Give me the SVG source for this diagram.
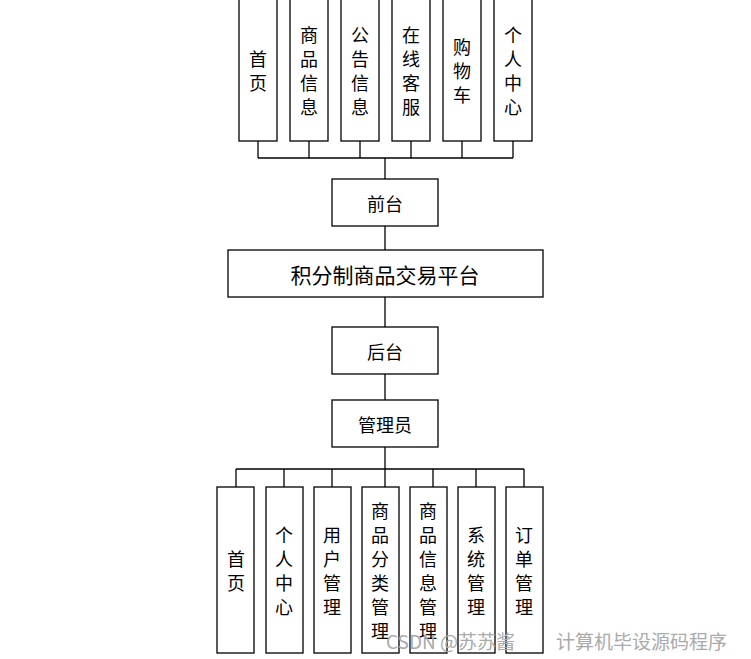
<svg xmlns="http://www.w3.org/2000/svg" width="751" height="659" viewBox="0 0 751 659">
<style>
rect{fill:#fff;stroke:#000;stroke-width:1.3}
.c line,.c polyline{stroke:#000;stroke-width:1.3;fill:none}
text{font-family:"Noto Sans CJK SC",sans-serif;font-size:18px;fill:#000;text-anchor:middle;dominant-baseline:central}
.wm{fill:#aaa;font-size:19px;text-anchor:start}
</style>
<rect x="0" y="0" width="751" height="659" style="stroke:none"/>
<g class="c">
<line x1="258" y1="141" x2="258" y2="158"/><line x1="309" y1="141" x2="309" y2="158"/><line x1="360" y1="141" x2="360" y2="158"/><line x1="411" y1="141" x2="411" y2="158"/><line x1="462" y1="141" x2="462" y2="158"/><line x1="513" y1="141" x2="513" y2="158"/>
<line x1="258" y1="158" x2="513" y2="158"/>
<line x1="385" y1="158" x2="385" y2="179"/>
<line x1="385" y1="226" x2="385" y2="250"/>
<line x1="385" y1="297" x2="385" y2="327"/>
<line x1="385" y1="374" x2="385" y2="400"/>
<line x1="385" y1="447" x2="385" y2="487"/>
<line x1="236" y1="469" x2="524" y2="469"/>
<line x1="236" y1="469" x2="236" y2="487"/><line x1="284" y1="469" x2="284" y2="487"/><line x1="332" y1="469" x2="332" y2="487"/><line x1="433" y1="469" x2="433" y2="487"/><line x1="476" y1="469" x2="476" y2="487"/><line x1="524" y1="469" x2="524" y2="487"/>
</g>
<g id="t1"><rect x="239" y="-2" width="38" height="143"/><text x="258" y="58">首</text><text x="258" y="82">页</text></g>
<g id="t2"><rect x="290" y="-2" width="38" height="143"/><text x="309" y="34">商</text><text x="309" y="58">品</text><text x="309" y="82">信</text><text x="309" y="106">息</text></g>
<g id="t3"><rect x="341" y="-2" width="38" height="143"/><text x="360" y="34">公</text><text x="360" y="58">告</text><text x="360" y="82">信</text><text x="360" y="106">息</text></g>
<g id="t4"><rect x="392" y="-2" width="38" height="143"/><text x="411" y="34">在</text><text x="411" y="58">线</text><text x="411" y="82">客</text><text x="411" y="106">服</text></g>
<g id="t5"><rect x="443" y="-2" width="38" height="143"/><text x="462" y="46">购</text><text x="462" y="70">物</text><text x="462" y="94">车</text></g>
<g id="t6"><rect x="494" y="-2" width="38" height="143"/><text x="513" y="34">个</text><text x="513" y="58">人</text><text x="513" y="82">中</text><text x="513" y="106">心</text></g>
<g id="qt"><rect x="332" y="179" width="106" height="47"/><text x="385" y="203">前台</text></g>
<g id="main"><rect x="228" y="250" width="315" height="47"/><text x="385" y="274" style="font-size:21px">积分制商品交易平台</text></g>
<g id="ht"><rect x="332" y="327" width="106" height="47"/><text x="385" y="351">后台</text></g>
<g id="gly"><rect x="332" y="400" width="106" height="47"/><text x="385" y="424">管理员</text></g>
<g id="b1"><rect x="217" y="487" width="37" height="166"/><text x="236" y="558">首</text><text x="236" y="582">页</text></g>
<g id="b2"><rect x="266" y="487" width="37" height="166"/><text x="284" y="534">个</text><text x="284" y="558">人</text><text x="284" y="582">中</text><text x="284" y="606">心</text></g>
<g id="b3"><rect x="314" y="487" width="37" height="166"/><text x="332" y="534">用</text><text x="332" y="558">户</text><text x="332" y="582">管</text><text x="332" y="606">理</text></g>
<g id="b4"><rect x="362" y="487" width="37" height="166"/><text x="380" y="510">商</text><text x="380" y="534">品</text><text x="380" y="558">分</text><text x="380" y="582">类</text><text x="380" y="606">管</text><text x="380" y="630">理</text></g>
<g id="b5"><rect x="410" y="487" width="37" height="166"/><text x="428" y="510">商</text><text x="428" y="534">品</text><text x="428" y="558">信</text><text x="428" y="582">息</text><text x="428" y="606">管</text><text x="428" y="630">理</text></g>
<g id="b6"><rect x="458" y="487" width="37" height="166"/><text x="476" y="534">系</text><text x="476" y="558">统</text><text x="476" y="582">管</text><text x="476" y="606">理</text></g>
<g id="b7"><rect x="506" y="487" width="37" height="166"/><text x="524" y="534">订</text><text x="524" y="558">单</text><text x="524" y="582">管</text><text x="524" y="606">理</text></g>
<text class="wm" x="386" y="640">CSDN @苏苏酱</text>
<text class="wm" x="556" y="640">计算机毕设源码程序</text>
</svg>
